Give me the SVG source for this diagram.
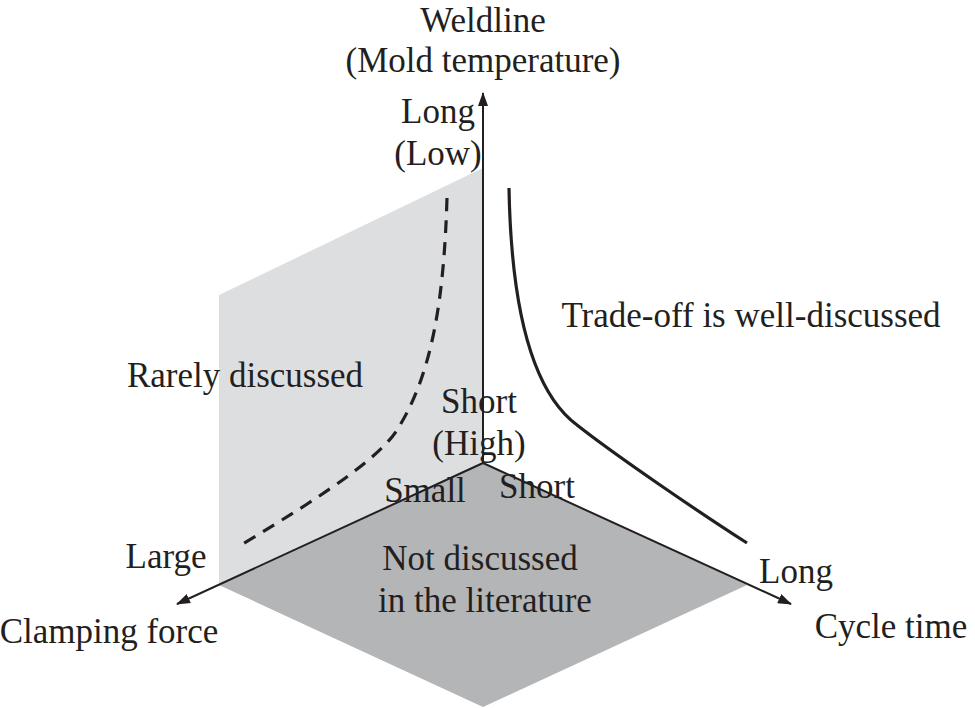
<svg xmlns="http://www.w3.org/2000/svg" width="975" height="708" viewBox="0 0 975 708">
<style>
text{font-family:"Liberation Serif","Times New Roman",serif;font-size:35px;fill:#231f20}
.ax{stroke:#231f20;stroke-width:2;fill:none}
.cv{stroke:#231f20;stroke-width:3.2;fill:none}
</style>
<defs>
<marker id="ah" viewBox="0 0 14 10" refX="13" refY="5" markerWidth="14" markerHeight="10" markerUnits="userSpaceOnUse" orient="auto">
<path d="M0,0 L14,5 L0,10 Z" fill="#231f20"/>
</marker>
</defs>
<rect width="975" height="708" fill="#fff"/>
<g id="plane-wall">
<polygon points="219,295 483,168 483,463 219,585" fill="#dddee0"/>
</g>
<g id="plane-floor">
<polygon points="483,463 219,585 483,707 747,585" fill="#b4b5b7"/>
</g>
<g id="connectors">
<line class="ax" x1="483" y1="463" x2="483" y2="93" marker-end="url(#ah)"/>
<line class="ax" x1="483" y1="463" x2="177" y2="604" marker-end="url(#ah)"/>
<line class="ax" x1="483" y1="463" x2="791" y2="604" marker-end="url(#ah)"/>
<path class="cv" d="M509,188 C511,300 530,390 577,425 C615,455 700,513 747,543"/>
<path class="cv" stroke-dasharray="13,9" d="M447,198 C444,300 432,375 397,430 C375,465 290,515 238,547"/>
</g>
<g id="axis-weldline">
<text x="483" y="32" text-anchor="middle">Weldline</text>
<text x="483" y="72" text-anchor="middle">(Mold temperature)</text>
<text x="438" y="123" text-anchor="middle">Long</text>
<text x="438" y="165" text-anchor="middle">(Low)</text>
<text x="479" y="413" text-anchor="middle">Short</text>
<text x="479" y="455" text-anchor="middle">(High)</text>
</g>
<g id="axis-clamping">
<text x="425" y="502" text-anchor="middle">Small</text>
<text x="166" y="568" text-anchor="middle">Large</text>
<text x="109" y="643" text-anchor="middle">Clamping force</text>
</g>
<g id="axis-cycle">
<text x="537" y="498" text-anchor="middle">Short</text>
<text x="796" y="583" text-anchor="middle">Long</text>
<text x="891" y="638" text-anchor="middle">Cycle time</text>
</g>
<g id="region-rarely">
<text x="245" y="387" text-anchor="middle">Rarely discussed</text>
</g>
<g id="region-tradeoff">
<text x="751" y="327" text-anchor="middle">Trade-off is well-discussed</text>
</g>
<g id="region-not">
<text x="480" y="570" text-anchor="middle">Not discussed</text>
<text x="485" y="612" text-anchor="middle">in the literature</text>
</g>
</svg>
